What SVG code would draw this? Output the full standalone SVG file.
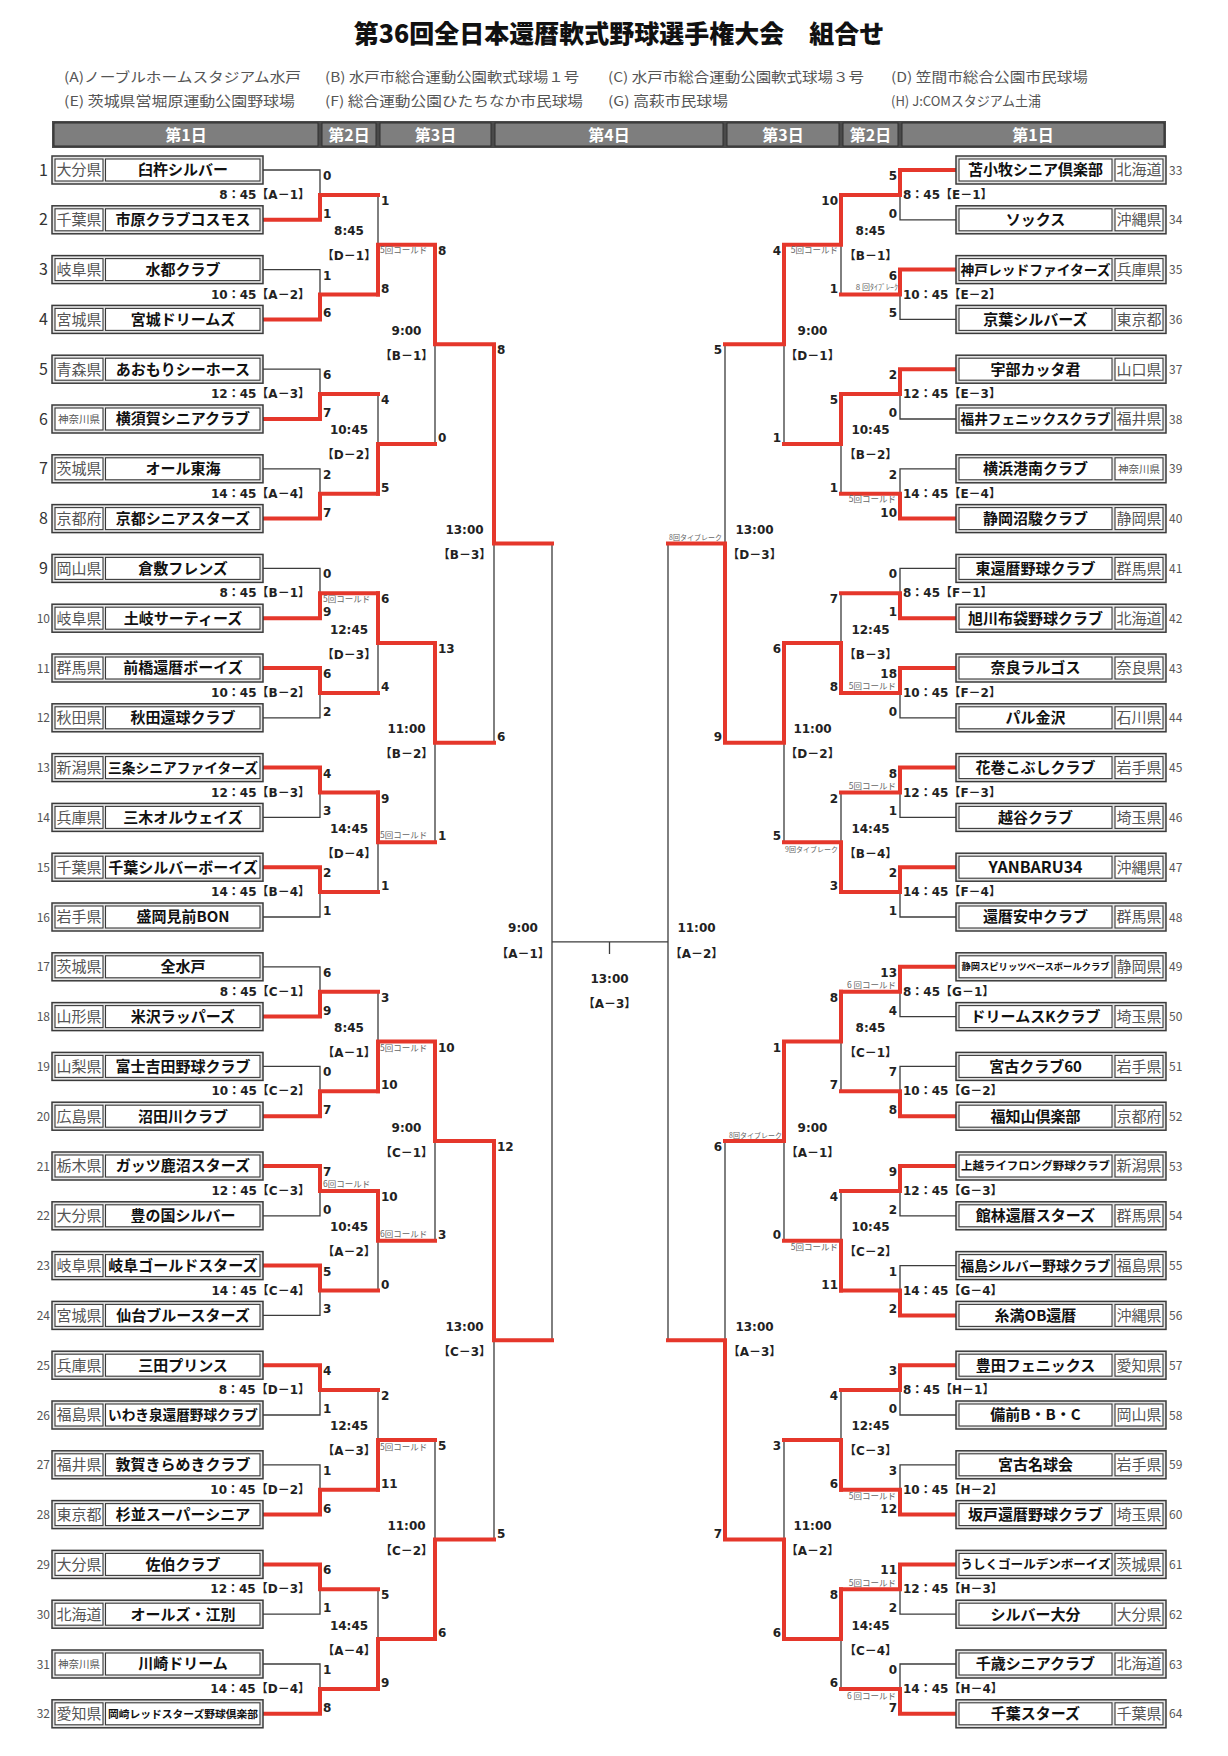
<svg xmlns="http://www.w3.org/2000/svg" xmlns:xlink="http://www.w3.org/1999/xlink" width="1228" height="1756" viewBox="0 0 1228 1756">
<style>
.ln{fill:none;stroke:#3c3c3c;stroke-width:1.3}
.rd{fill:none;stroke:#e5372b;stroke-width:4;stroke-linecap:square;stroke-linejoin:miter}
.bo{fill:#e4e4e4;stroke:#3a3a3a;stroke-width:1.5}
.bi{fill:#fff;stroke:#3a3a3a;stroke-width:1.1}
.nm{font-family:"Noto Sans CJK JP",sans-serif;font-weight:700;font-size:15px;text-anchor:middle;fill:#111}
.pf{font-family:"Noto Sans CJK JP",sans-serif;font-size:15px;text-anchor:middle;fill:#555}
.pfs{font-size:10.5px}
.no{font-family:"Noto Sans CJK JP",sans-serif;font-size:12px;fill:#555}
.nob{font-size:16px;fill:#333}
.sc{font-family:"DejaVu Sans","Noto Sans CJK JP",sans-serif;font-weight:700;font-size:12px;fill:#222}
.tm{font-family:"DejaVu Sans","Noto Sans CJK JP",sans-serif;font-weight:700;font-size:12px;fill:#222;text-anchor:middle}
.t1{font-family:"DejaVu Sans","Noto Sans CJK JP",sans-serif;font-weight:700;font-size:12px;fill:#222}
.nt{font-family:"Noto Sans CJK JP",sans-serif;font-size:8.5px;fill:#666}
.nt7{font-size:7px}
.e{text-anchor:end}
.ht{font-family:"Noto Sans CJK JP",sans-serif;font-weight:700;font-size:16px;fill:#fff;text-anchor:middle}
.hc{fill:#7e7e7e;stroke:#2e2e2e;stroke-width:1}
.vn{font-family:"Noto Sans CJK JP",sans-serif;font-size:13.5px;fill:#555}
</style>
<defs>
<g id="boxL"><rect class="bo" x="52" y="-14" width="211" height="28"/><rect class="bi" x="55" y="-11" width="48" height="22"/><rect class="bi" x="105.5" y="-11" width="154.5" height="22"/></g>
<g id="boxR"><rect class="bo" x="956" y="-14" width="210" height="28"/><rect class="bi" x="959" y="-11" width="153" height="22"/><rect class="bi" x="1115" y="-11" width="48" height="22"/></g>
</defs>
<rect width="1228" height="1756" fill="#fff"/>
<g id="title"><text x="619" y="43" font-family="Noto Sans CJK JP, sans-serif" font-weight="900" font-size="25" text-anchor="middle" fill="#111">第36回全日本還暦軟式野球選手権大会　組合せ</text></g>
<g id="venues">
<text class="vn" x="64" y="82" textLength="237" lengthAdjust="spacingAndGlyphs">(A)ノーブルホームスタジアム水戸</text>
<text class="vn" x="325" y="82" textLength="254" lengthAdjust="spacingAndGlyphs">(B) 水戸市総合運動公園軟式球場１号</text>
<text class="vn" x="608" y="82" textLength="256" lengthAdjust="spacingAndGlyphs">(C) 水戸市総合運動公園軟式球場３号</text>
<text class="vn" x="891" y="82" textLength="197" lengthAdjust="spacingAndGlyphs">(D) 笠間市総合公園市民球場</text>
<text class="vn" x="64" y="106" textLength="231" lengthAdjust="spacingAndGlyphs">(E) 茨城県営堀原運動公園野球場</text>
<text class="vn" x="325" y="106" textLength="258" lengthAdjust="spacingAndGlyphs">(F) 総合運動公園ひたちなか市民球場</text>
<text class="vn" x="608" y="106" textLength="120" lengthAdjust="spacingAndGlyphs">(G) 高萩市民球場</text>
<text class="vn" x="891" y="106" textLength="150" lengthAdjust="spacingAndGlyphs">(H) J:COMスタジアム土浦</text>
</g>
<g id="header">
<rect x="52" y="121" width="1114" height="27" fill="#4a4a4a"/>
<rect class="hc" x="54" y="123" width="264" height="23"/>
<rect class="hc" x="322" y="123" width="54" height="23"/>
<rect class="hc" x="380" y="123" width="111" height="23"/>
<rect class="hc" x="495" y="123" width="228" height="23"/>
<rect class="hc" x="727" y="123" width="112" height="23"/>
<rect class="hc" x="843" y="123" width="55" height="23"/>
<rect class="hc" x="902" y="123" width="262" height="23"/>
<text class="ht" x="186" y="140.5">第1日</text>
<text class="ht" x="349" y="140.5">第2日</text>
<text class="ht" x="435.5" y="140.5">第3日</text>
<text class="ht" x="609" y="140.5">第4日</text>
<text class="ht" x="783" y="140.5">第3日</text>
<text class="ht" x="870.5" y="140.5">第2日</text>
<text class="ht" x="1033" y="140.5">第1日</text>
</g>
<g id="connectors">
<path class="ln" d="M263 170H320V219.8H263M263 269.6H320V319.4H263M263 369.2H320V419H263M263 468.8H320V518.6H263M263 568.4H320V618.2H263M263 668H320V717.8H263M263 767.6H320V817.4H263M263 867.2H320V917H263M263 966.8H320V1016.6H263M263 1066.4H320V1116.2H263M263 1166H320V1215.8H263M263 1265.6H320V1315.4H263M263 1365.2H320V1415H263M263 1464.8H320V1514.6H263M263 1564.4H320V1614.2H263M263 1664H320V1713.8H263"/>
<path class="ln" d="M378 194.9V294.5M378 394.1V493.7M378 593.3V692.9M378 792.5V892.1M378 991.7V1091.3M378 1190.9V1290.5M378 1390.1V1489.7M378 1589.3V1688.9M435 244.7V443.9M435 643.1V842.3M435 1041.5V1240.7M435 1439.9V1639.1M494 344.3V742.7M494 1141.1V1539.5M552 543.5V1340.3"/>
<path class="ln" d="M956 170H900V219.8H956M956 269.6H900V319.4H956M956 369.2H900V419H956M956 468.8H900V518.6H956M956 568.4H900V618.2H956M956 668H900V717.8H956M956 767.6H900V817.4H956M956 867.2H900V917H956M956 966.8H900V1016.6H956M956 1066.4H900V1116.2H956M956 1166H900V1215.8H956M956 1265.6H900V1315.4H956M956 1365.2H900V1415H956M956 1464.8H900V1514.6H956M956 1564.4H900V1614.2H956M956 1664H900V1713.8H956"/>
<path class="ln" d="M841 194.9V294.5M841 394.1V493.7M841 593.3V692.9M841 792.5V892.1M841 991.7V1091.3M841 1190.9V1290.5M841 1390.1V1489.7M841 1589.3V1688.9M784 244.7V443.9M784 643.1V842.3M784 1041.5V1240.7M784 1439.9V1639.1M725 344.3V742.7M725 1141.1V1539.5M668 543.5V1340.3"/>
<path class="ln" d="M552 941.9H668M609.5 941.9V954"/>
<path class="rd" d="M263 219.8H320V194.9H378M263 319.4H320V294.5H378M263 419H320V394.1H378M263 518.6H320V493.7H378M263 618.2H320V593.3H378M263 668H320V692.9H378M263 767.6H320V792.5H378M263 867.2H320V892.1H378M263 1016.6H320V991.7H378M263 1116.2H320V1091.3H378M263 1166H320V1190.9H378M263 1265.6H320V1290.5H378M263 1365.2H320V1390.1H378M263 1514.6H320V1489.7H378M263 1564.4H320V1589.3H378M263 1713.8H320V1688.9H378"/>
<path class="rd" d="M378 294.5V244.7H435M378 493.7V443.9H435M378 593.3V643.1H435M378 792.5V842.3H435M378 1091.3V1041.5H435M378 1190.9V1240.7H435M378 1489.7V1439.9H435M378 1688.9V1639.1H435M435 244.7V344.3H494M435 643.1V742.7H494M435 1041.5V1141.1H494M435 1639.1V1539.5H494M494 344.3V543.5H552M494 1141.1V1340.3H552"/>
<path class="rd" d="M956 170H900V194.9H841M956 269.6H900V294.5H841M956 369.2H900V394.1H841M956 518.6H900V493.7H841M956 618.2H900V593.3H841M956 668H900V692.9H841M956 767.6H900V792.5H841M956 867.2H900V892.1H841M956 966.8H900V991.7H841M956 1116.2H900V1091.3H841M956 1166H900V1190.9H841M956 1315.4H900V1290.5H841M956 1365.2H900V1390.1H841M956 1514.6H900V1489.7H841M956 1564.4H900V1589.3H841M956 1713.8H900V1688.9H841"/>
<path class="rd" d="M841 194.9V244.7H784M841 394.1V443.9H784M841 692.9V643.1H784M841 892.1V842.3H784M841 991.7V1041.5H784M841 1290.5V1240.7H784M841 1489.7V1439.9H784M841 1589.3V1639.1H784M784 244.7V344.3H725M784 643.1V742.7H725M784 1041.5V1141.1H725M784 1639.1V1539.5H725M725 742.7V543.5H668M725 1539.5V1340.3H668"/>
</g>
<g id="scores">
<text class="sc" x="323" y="180">0</text><text class="sc" x="323" y="217.8">1</text><text class="sc" x="323" y="279.6">1</text><text class="sc" x="323" y="317.4">6</text><text class="sc" x="323" y="379.2">6</text><text class="sc" x="323" y="417">7</text><text class="sc" x="323" y="478.8">2</text><text class="sc" x="323" y="516.6">7</text><text class="sc" x="323" y="578.4">0</text><text class="sc" x="323" y="616.2">9</text><text class="sc" x="323" y="678">6</text><text class="sc" x="323" y="715.8">2</text><text class="sc" x="323" y="777.6">4</text><text class="sc" x="323" y="815.4">3</text><text class="sc" x="323" y="877.2">2</text><text class="sc" x="323" y="915">1</text>
<text class="sc" x="323" y="976.8">6</text><text class="sc" x="323" y="1014.6">9</text><text class="sc" x="323" y="1076.4">0</text><text class="sc" x="323" y="1114.2">7</text><text class="sc" x="323" y="1176">7</text><text class="sc" x="323" y="1213.8">0</text><text class="sc" x="323" y="1275.6">5</text><text class="sc" x="323" y="1313.4">3</text><text class="sc" x="323" y="1375.2">4</text><text class="sc" x="323" y="1413">1</text><text class="sc" x="323" y="1474.8">1</text><text class="sc" x="323" y="1512.6">6</text><text class="sc" x="323" y="1574.4">6</text><text class="sc" x="323" y="1612.2">1</text><text class="sc" x="323" y="1674">1</text><text class="sc" x="323" y="1711.8">8</text>
<text class="sc" x="381" y="204.9">1</text><text class="sc" x="381" y="292.5">8</text><text class="sc" x="381" y="404.1">4</text><text class="sc" x="381" y="491.7">5</text><text class="sc" x="381" y="603.3">6</text><text class="sc" x="381" y="690.9">4</text><text class="sc" x="381" y="802.5">9</text><text class="sc" x="381" y="890.1">1</text><text class="sc" x="381" y="1001.7">3</text><text class="sc" x="381" y="1089.3">10</text><text class="sc" x="381" y="1200.9">10</text><text class="sc" x="381" y="1288.5">0</text><text class="sc" x="381" y="1400.1">2</text><text class="sc" x="381" y="1487.7">11</text><text class="sc" x="381" y="1599.3">5</text><text class="sc" x="381" y="1686.9">9</text>
<text class="sc" x="438" y="254.7">8</text><text class="sc" x="438" y="441.9">0</text><text class="sc" x="438" y="653.1">13</text><text class="sc" x="438" y="840.3">1</text><text class="sc" x="438" y="1051.5">10</text><text class="sc" x="438" y="1238.7">3</text><text class="sc" x="438" y="1449.9">5</text><text class="sc" x="438" y="1637.1">6</text>
<text class="sc" x="497" y="354.3">8</text><text class="sc" x="497" y="740.7">6</text><text class="sc" x="497" y="1151.1">12</text><text class="sc" x="497" y="1537.5">5</text>
<text class="sc e" x="897" y="180">5</text><text class="sc e" x="897" y="217.8">0</text><text class="sc e" x="897" y="279.6">6</text><text class="sc e" x="897" y="317.4">5</text><text class="sc e" x="897" y="379.2">2</text><text class="sc e" x="897" y="417">0</text><text class="sc e" x="897" y="478.8">2</text><text class="sc e" x="897" y="516.6">10</text><text class="sc e" x="897" y="578.4">0</text><text class="sc e" x="897" y="616.2">1</text><text class="sc e" x="897" y="678">18</text><text class="sc e" x="897" y="715.8">0</text><text class="sc e" x="897" y="777.6">8</text><text class="sc e" x="897" y="815.4">1</text><text class="sc e" x="897" y="877.2">2</text><text class="sc e" x="897" y="915">1</text>
<text class="sc e" x="897" y="976.8">13</text><text class="sc e" x="897" y="1014.6">4</text><text class="sc e" x="897" y="1076.4">7</text><text class="sc e" x="897" y="1114.2">8</text><text class="sc e" x="897" y="1176">9</text><text class="sc e" x="897" y="1213.8">2</text><text class="sc e" x="897" y="1275.6">1</text><text class="sc e" x="897" y="1313.4">2</text><text class="sc e" x="897" y="1375.2">3</text><text class="sc e" x="897" y="1413">0</text><text class="sc e" x="897" y="1474.8">3</text><text class="sc e" x="897" y="1512.6">12</text><text class="sc e" x="897" y="1574.4">11</text><text class="sc e" x="897" y="1612.2">2</text><text class="sc e" x="897" y="1674">0</text><text class="sc e" x="897" y="1711.8">7</text>
<text class="sc e" x="838" y="204.9">10</text><text class="sc e" x="838" y="292.5">1</text><text class="sc e" x="838" y="404.1">5</text><text class="sc e" x="838" y="491.7">1</text><text class="sc e" x="838" y="603.3">7</text><text class="sc e" x="838" y="690.9">8</text><text class="sc e" x="838" y="802.5">2</text><text class="sc e" x="838" y="890.1">3</text><text class="sc e" x="838" y="1001.7">8</text><text class="sc e" x="838" y="1089.3">7</text><text class="sc e" x="838" y="1200.9">4</text><text class="sc e" x="838" y="1288.5">11</text><text class="sc e" x="838" y="1400.1">4</text><text class="sc e" x="838" y="1487.7">6</text><text class="sc e" x="838" y="1599.3">8</text><text class="sc e" x="838" y="1686.9">6</text>
<text class="sc e" x="781" y="254.7">4</text><text class="sc e" x="781" y="441.9">1</text><text class="sc e" x="781" y="653.1">6</text><text class="sc e" x="781" y="840.3">5</text><text class="sc e" x="781" y="1051.5">1</text><text class="sc e" x="781" y="1238.7">0</text><text class="sc e" x="781" y="1449.9">3</text><text class="sc e" x="781" y="1637.1">6</text>
<text class="sc e" x="722" y="354.3">5</text><text class="sc e" x="722" y="740.7">9</text><text class="sc e" x="722" y="1151.1">6</text><text class="sc e" x="722" y="1537.5">7</text>
</g>
<g id="labels">
<text class="t1 e" x="310" y="198.9">8：45【A－1】</text><text class="t1 e" x="310" y="298.5">10：45【A－2】</text><text class="t1 e" x="310" y="398.1">12：45【A－3】</text><text class="t1 e" x="310" y="497.7">14：45【A－4】</text>
<text class="t1 e" x="310" y="597.3">8：45【B－1】</text><text class="t1 e" x="310" y="696.9">10：45【B－2】</text><text class="t1 e" x="310" y="796.5">12：45【B－3】</text><text class="t1 e" x="310" y="896.1">14：45【B－4】</text>
<text class="t1 e" x="310" y="995.7">8：45【C－1】</text><text class="t1 e" x="310" y="1095.3">10：45【C－2】</text><text class="t1 e" x="310" y="1194.9">12：45【C－3】</text><text class="t1 e" x="310" y="1294.5">14：45【C－4】</text>
<text class="t1 e" x="310" y="1394.1">8：45【D－1】</text><text class="t1 e" x="310" y="1493.7">10：45【D－2】</text><text class="t1 e" x="310" y="1593.3">12：45【D－3】</text><text class="t1 e" x="310" y="1692.9">14：45【D－4】</text>
<text class="t1" x="903" y="198.9">8：45【E－1】</text><text class="t1" x="903" y="298.5">10：45【E－2】</text><text class="t1" x="903" y="398.1">12：45【E－3】</text><text class="t1" x="903" y="497.7">14：45【E－4】</text>
<text class="t1" x="903" y="597.3">8：45【F－1】</text><text class="t1" x="903" y="696.9">10：45【F－2】</text><text class="t1" x="903" y="796.5">12：45【F－3】</text><text class="t1" x="903" y="896.1">14：45【F－4】</text>
<text class="t1" x="903" y="995.7">8：45【G－1】</text><text class="t1" x="903" y="1095.3">10：45【G－2】</text><text class="t1" x="903" y="1194.9">12：45【G－3】</text><text class="t1" x="903" y="1294.5">14：45【G－4】</text>
<text class="t1" x="903" y="1394.1">8：45【H－1】</text><text class="t1" x="903" y="1493.7">10：45【H－2】</text><text class="t1" x="903" y="1593.3">12：45【H－3】</text><text class="t1" x="903" y="1692.9">14：45【H－4】</text>
<text class="tm" x="349" y="235.2">8:45</text><text class="tm" x="349" y="260.2">【D－1】</text>
<text class="tm" x="349" y="434.4">10:45</text><text class="tm" x="349" y="459.4">【D－2】</text>
<text class="tm" x="349" y="633.6">12:45</text><text class="tm" x="349" y="658.6">【D－3】</text>
<text class="tm" x="349" y="832.8">14:45</text><text class="tm" x="349" y="857.8">【D－4】</text>
<text class="tm" x="349" y="1032">8:45</text><text class="tm" x="349" y="1057">【A－1】</text>
<text class="tm" x="349" y="1231.2">10:45</text><text class="tm" x="349" y="1256.2">【A－2】</text>
<text class="tm" x="349" y="1430.4">12:45</text><text class="tm" x="349" y="1455.4">【A－3】</text>
<text class="tm" x="349" y="1629.6">14:45</text><text class="tm" x="349" y="1654.6">【A－4】</text>
<text class="tm" x="406.5" y="334.8">9:00</text><text class="tm" x="406.5" y="359.8">【B－1】</text>
<text class="tm" x="406.5" y="733.2">11:00</text><text class="tm" x="406.5" y="758.2">【B－2】</text>
<text class="tm" x="406.5" y="1131.6">9:00</text><text class="tm" x="406.5" y="1156.6">【C－1】</text>
<text class="tm" x="406.5" y="1530">11:00</text><text class="tm" x="406.5" y="1555">【C－2】</text>
<text class="tm" x="464.5" y="534">13:00</text><text class="tm" x="464.5" y="559">【B－3】</text>
<text class="tm" x="464.5" y="1330.8">13:00</text><text class="tm" x="464.5" y="1355.8">【C－3】</text>
<text class="tm" x="523" y="932">9:00</text><text class="tm" x="523" y="958">【A－1】</text>
<text class="tm" x="609.5" y="983">13:00</text><text class="tm" x="609.5" y="1008">【A－3】</text>
<text class="tm" x="696.5" y="932">11:00</text><text class="tm" x="696.5" y="958">【A－2】</text>
<text class="tm" x="754.5" y="534">13:00</text><text class="tm" x="754.5" y="559">【D－3】</text>
<text class="tm" x="754.5" y="1330.8">13:00</text><text class="tm" x="754.5" y="1355.8">【A－3】</text>
<text class="tm" x="812.5" y="334.8">9:00</text><text class="tm" x="812.5" y="359.8">【D－1】</text>
<text class="tm" x="812.5" y="733.2">11:00</text><text class="tm" x="812.5" y="758.2">【D－2】</text>
<text class="tm" x="812.5" y="1131.6">9:00</text><text class="tm" x="812.5" y="1156.6">【A－1】</text>
<text class="tm" x="812.5" y="1530">11:00</text><text class="tm" x="812.5" y="1555">【A－2】</text>
<text class="tm" x="870.5" y="235.2">8:45</text><text class="tm" x="870.5" y="260.2">【B－1】</text>
<text class="tm" x="870.5" y="434.4">10:45</text><text class="tm" x="870.5" y="459.4">【B－2】</text>
<text class="tm" x="870.5" y="633.6">12:45</text><text class="tm" x="870.5" y="658.6">【B－3】</text>
<text class="tm" x="870.5" y="832.8">14:45</text><text class="tm" x="870.5" y="857.8">【B－4】</text>
<text class="tm" x="870.5" y="1032">8:45</text><text class="tm" x="870.5" y="1057">【C－1】</text>
<text class="tm" x="870.5" y="1231.2">10:45</text><text class="tm" x="870.5" y="1256.2">【C－2】</text>
<text class="tm" x="870.5" y="1430.4">12:45</text><text class="tm" x="870.5" y="1455.4">【C－3】</text>
<text class="tm" x="870.5" y="1629.6">14:45</text><text class="tm" x="870.5" y="1654.6">【C－4】</text>
</g>
<g id="notes">
<text class="nt" x="380" y="253">5回コールド</text>
<text class="nt" x="323" y="602">5回コールド</text>
<text class="nt" x="380" y="838">5回コールド</text>
<text class="nt" x="323" y="1187">6回コールド</text>
<text class="nt" x="380" y="1051">5回コールド</text>
<text class="nt" x="380" y="1237">6回コールド</text>
<text class="nt" x="380" y="1450">5回コールド</text>
<text class="nt e" x="898" y="290" style="font-size:8px">8 回ﾀｲﾌﾞﾚｰｸ</text>
<text class="nt e" x="896" y="502">5回コールド</text>
<text class="nt e" x="838" y="253">5回コールド</text>
<text class="nt e" x="896" y="689">5回コールド</text>
<text class="nt e" x="896" y="789">5回コールド</text>
<text class="nt nt7 e" x="838" y="852">9回タイブレーク</text>
<text class="nt nt7 e" x="722" y="540">8回タイブレーク</text>
<text class="nt e" x="896" y="988">6 回コールド</text>
<text class="nt nt7 e" x="782" y="1138">8回タイブレーク</text>
<text class="nt e" x="838" y="1250">5回コールド</text>
<text class="nt e" x="896" y="1499">5回コールド</text>
<text class="nt e" x="896" y="1586">5回コールド</text>
<text class="nt e" x="896" y="1699">6 回コールド</text>
</g>
<g id="team-1" transform="translate(0,170)"><use href="#boxL"/><text class="no nob e" x="48" y="5.5">1</text><text class="pf" x="79" y="5.4">大分県</text><text class="nm" x="183" y="5.4">臼杵シルバー</text></g>
<g id="team-2" transform="translate(0,219.8)"><use href="#boxL"/><text class="no nob e" x="48" y="5.5">2</text><text class="pf" x="79" y="5.4">千葉県</text><text class="nm" x="183" y="5.4">市原クラブコスモス</text></g>
<g id="team-3" transform="translate(0,269.6)"><use href="#boxL"/><text class="no nob e" x="48" y="5.5">3</text><text class="pf" x="79" y="5.4">岐阜県</text><text class="nm" x="183" y="5.4">水都クラブ</text></g>
<g id="team-4" transform="translate(0,319.4)"><use href="#boxL"/><text class="no nob e" x="48" y="5.5">4</text><text class="pf" x="79" y="5.4">宮城県</text><text class="nm" x="183" y="5.4">宮城ドリームズ</text></g>
<g id="team-5" transform="translate(0,369.2)"><use href="#boxL"/><text class="no nob e" x="48" y="5.5">5</text><text class="pf" x="79" y="5.4">青森県</text><text class="nm" x="183" y="5.4">あおもりシーホース</text></g>
<g id="team-6" transform="translate(0,419)"><use href="#boxL"/><text class="no nob e" x="48" y="5.5">6</text><text class="pf pfs" x="79" y="3.8">神奈川県</text><text class="nm" x="183" y="5.4">横須賀シニアクラブ</text></g>
<g id="team-7" transform="translate(0,468.8)"><use href="#boxL"/><text class="no nob e" x="48" y="5.5">7</text><text class="pf" x="79" y="5.4">茨城県</text><text class="nm" x="183" y="5.4">オール東海</text></g>
<g id="team-8" transform="translate(0,518.6)"><use href="#boxL"/><text class="no nob e" x="48" y="5.5">8</text><text class="pf" x="79" y="5.4">京都府</text><text class="nm" x="183" y="5.4">京都シニアスターズ</text></g>
<g id="team-9" transform="translate(0,568.4)"><use href="#boxL"/><text class="no nob e" x="48" y="5.5">9</text><text class="pf" x="79" y="5.4">岡山県</text><text class="nm" x="183" y="5.4">倉敷フレンズ</text></g>
<g id="team-10" transform="translate(0,618.2)"><use href="#boxL"/><text class="no e" x="50" y="4.5">10</text><text class="pf" x="79" y="5.4">岐阜県</text><text class="nm" x="183" y="5.4">土岐サーティーズ</text></g>
<g id="team-11" transform="translate(0,668)"><use href="#boxL"/><text class="no e" x="50" y="4.5">11</text><text class="pf" x="79" y="5.4">群馬県</text><text class="nm" x="183" y="5.4">前橋還暦ボーイズ</text></g>
<g id="team-12" transform="translate(0,717.8)"><use href="#boxL"/><text class="no e" x="50" y="4.5">12</text><text class="pf" x="79" y="5.4">秋田県</text><text class="nm" x="183" y="5.4">秋田還球クラブ</text></g>
<g id="team-13" transform="translate(0,767.6)"><use href="#boxL"/><text class="no e" x="50" y="4.5">13</text><text class="pf" x="79" y="5.4">新潟県</text><text class="nm" x="183" y="4.9" style="font-size:13.6px" textLength="150" lengthAdjust="spacingAndGlyphs">三条シニアファイターズ</text></g>
<g id="team-14" transform="translate(0,817.4)"><use href="#boxL"/><text class="no e" x="50" y="4.5">14</text><text class="pf" x="79" y="5.4">兵庫県</text><text class="nm" x="183" y="5.4">三木オルウェイズ</text></g>
<g id="team-15" transform="translate(0,867.2)"><use href="#boxL"/><text class="no e" x="50" y="4.5">15</text><text class="pf" x="79" y="5.4">千葉県</text><text class="nm" x="183" y="5.4">千葉シルバーボーイズ</text></g>
<g id="team-16" transform="translate(0,917)"><use href="#boxL"/><text class="no e" x="50" y="4.5">16</text><text class="pf" x="79" y="5.4">岩手県</text><text class="nm" x="183" y="5.4">盛岡見前BON</text></g>
<g id="team-17" transform="translate(0,966.8)"><use href="#boxL"/><text class="no e" x="50" y="4.5">17</text><text class="pf" x="79" y="5.4">茨城県</text><text class="nm" x="183" y="5.4">全水戸</text></g>
<g id="team-18" transform="translate(0,1016.6)"><use href="#boxL"/><text class="no e" x="50" y="4.5">18</text><text class="pf" x="79" y="5.4">山形県</text><text class="nm" x="183" y="5.4">米沢ラッパーズ</text></g>
<g id="team-19" transform="translate(0,1066.4)"><use href="#boxL"/><text class="no e" x="50" y="4.5">19</text><text class="pf" x="79" y="5.4">山梨県</text><text class="nm" x="183" y="5.4">富士吉田野球クラブ</text></g>
<g id="team-20" transform="translate(0,1116.2)"><use href="#boxL"/><text class="no e" x="50" y="4.5">20</text><text class="pf" x="79" y="5.4">広島県</text><text class="nm" x="183" y="5.4">沼田川クラブ</text></g>
<g id="team-21" transform="translate(0,1166)"><use href="#boxL"/><text class="no e" x="50" y="4.5">21</text><text class="pf" x="79" y="5.4">栃木県</text><text class="nm" x="183" y="5.4">ガッツ鹿沼スターズ</text></g>
<g id="team-22" transform="translate(0,1215.8)"><use href="#boxL"/><text class="no e" x="50" y="4.5">22</text><text class="pf" x="79" y="5.4">大分県</text><text class="nm" x="183" y="5.4">豊の国シルバー</text></g>
<g id="team-23" transform="translate(0,1265.6)"><use href="#boxL"/><text class="no e" x="50" y="4.5">23</text><text class="pf" x="79" y="5.4">岐阜県</text><text class="nm" x="183" y="5.4">岐阜ゴールドスターズ</text></g>
<g id="team-24" transform="translate(0,1315.4)"><use href="#boxL"/><text class="no e" x="50" y="4.5">24</text><text class="pf" x="79" y="5.4">宮城県</text><text class="nm" x="183" y="5.4">仙台ブルースターズ</text></g>
<g id="team-25" transform="translate(0,1365.2)"><use href="#boxL"/><text class="no e" x="50" y="4.5">25</text><text class="pf" x="79" y="5.4">兵庫県</text><text class="nm" x="183" y="5.4">三田プリンス</text></g>
<g id="team-26" transform="translate(0,1415)"><use href="#boxL"/><text class="no e" x="50" y="4.5">26</text><text class="pf" x="79" y="5.4">福島県</text><text class="nm" x="183" y="4.9" style="font-size:13.6px" textLength="150" lengthAdjust="spacingAndGlyphs">いわき泉還暦野球クラブ</text></g>
<g id="team-27" transform="translate(0,1464.8)"><use href="#boxL"/><text class="no e" x="50" y="4.5">27</text><text class="pf" x="79" y="5.4">福井県</text><text class="nm" x="183" y="5.4">敦賀きらめきクラブ</text></g>
<g id="team-28" transform="translate(0,1514.6)"><use href="#boxL"/><text class="no e" x="50" y="4.5">28</text><text class="pf" x="79" y="5.4">東京都</text><text class="nm" x="183" y="5.4">杉並スーパーシニア</text></g>
<g id="team-29" transform="translate(0,1564.4)"><use href="#boxL"/><text class="no e" x="50" y="4.5">29</text><text class="pf" x="79" y="5.4">大分県</text><text class="nm" x="183" y="5.4">佐伯クラブ</text></g>
<g id="team-30" transform="translate(0,1614.2)"><use href="#boxL"/><text class="no e" x="50" y="4.5">30</text><text class="pf" x="79" y="5.4">北海道</text><text class="nm" x="183" y="5.4">オールズ・江別</text></g>
<g id="team-31" transform="translate(0,1664)"><use href="#boxL"/><text class="no e" x="50" y="4.5">31</text><text class="pf pfs" x="79" y="3.8">神奈川県</text><text class="nm" x="183" y="5.4">川崎ドリーム</text></g>
<g id="team-32" transform="translate(0,1713.8)"><use href="#boxL"/><text class="no e" x="50" y="4.5">32</text><text class="pf" x="79" y="5.4">愛知県</text><text class="nm" x="183" y="3.9" style="font-size:10.7px" textLength="150" lengthAdjust="spacingAndGlyphs">岡崎レッドスターズ野球倶楽部</text></g>
<g id="team-33" transform="translate(0,170)"><use href="#boxR"/><text class="nm" x="1035.5" y="5.4">苫小牧シニア倶楽部</text><text class="pf" x="1139" y="5.4">北海道</text><text class="no" x="1169" y="4.5">33</text></g>
<g id="team-34" transform="translate(0,219.8)"><use href="#boxR"/><text class="nm" x="1035.5" y="5.4">ソックス</text><text class="pf" x="1139" y="5.4">沖縄県</text><text class="no" x="1169" y="4.5">34</text></g>
<g id="team-35" transform="translate(0,269.6)"><use href="#boxR"/><text class="nm" x="1035.5" y="4.9" style="font-size:13.6px" textLength="150" lengthAdjust="spacingAndGlyphs">神戸レッドファイターズ</text><text class="pf" x="1139" y="5.4">兵庫県</text><text class="no" x="1169" y="4.5">35</text></g>
<g id="team-36" transform="translate(0,319.4)"><use href="#boxR"/><text class="nm" x="1035.5" y="5.4">京葉シルバーズ</text><text class="pf" x="1139" y="5.4">東京都</text><text class="no" x="1169" y="4.5">36</text></g>
<g id="team-37" transform="translate(0,369.2)"><use href="#boxR"/><text class="nm" x="1035.5" y="5.4">宇部カッタ君</text><text class="pf" x="1139" y="5.4">山口県</text><text class="no" x="1169" y="4.5">37</text></g>
<g id="team-38" transform="translate(0,419)"><use href="#boxR"/><text class="nm" x="1035.5" y="4.9" style="font-size:13.6px" textLength="150" lengthAdjust="spacingAndGlyphs">福井フェニックスクラブ</text><text class="pf" x="1139" y="5.4">福井県</text><text class="no" x="1169" y="4.5">38</text></g>
<g id="team-39" transform="translate(0,468.8)"><use href="#boxR"/><text class="nm" x="1035.5" y="5.4">横浜港南クラブ</text><text class="pf pfs" x="1139" y="3.8">神奈川県</text><text class="no" x="1169" y="4.5">39</text></g>
<g id="team-40" transform="translate(0,518.6)"><use href="#boxR"/><text class="nm" x="1035.5" y="5.4">静岡沼駿クラブ</text><text class="pf" x="1139" y="5.4">静岡県</text><text class="no" x="1169" y="4.5">40</text></g>
<g id="team-41" transform="translate(0,568.4)"><use href="#boxR"/><text class="nm" x="1035.5" y="5.4">東還暦野球クラブ</text><text class="pf" x="1139" y="5.4">群馬県</text><text class="no" x="1169" y="4.5">41</text></g>
<g id="team-42" transform="translate(0,618.2)"><use href="#boxR"/><text class="nm" x="1035.5" y="5.4">旭川布袋野球クラブ</text><text class="pf" x="1139" y="5.4">北海道</text><text class="no" x="1169" y="4.5">42</text></g>
<g id="team-43" transform="translate(0,668)"><use href="#boxR"/><text class="nm" x="1035.5" y="5.4">奈良ラルゴス</text><text class="pf" x="1139" y="5.4">奈良県</text><text class="no" x="1169" y="4.5">43</text></g>
<g id="team-44" transform="translate(0,717.8)"><use href="#boxR"/><text class="nm" x="1035.5" y="5.4">パル金沢</text><text class="pf" x="1139" y="5.4">石川県</text><text class="no" x="1169" y="4.5">44</text></g>
<g id="team-45" transform="translate(0,767.6)"><use href="#boxR"/><text class="nm" x="1035.5" y="5.4">花巻こぶしクラブ</text><text class="pf" x="1139" y="5.4">岩手県</text><text class="no" x="1169" y="4.5">45</text></g>
<g id="team-46" transform="translate(0,817.4)"><use href="#boxR"/><text class="nm" x="1035.5" y="5.4">越谷クラブ</text><text class="pf" x="1139" y="5.4">埼玉県</text><text class="no" x="1169" y="4.5">46</text></g>
<g id="team-47" transform="translate(0,867.2)"><use href="#boxR"/><text class="nm" x="1035.5" y="5.6" style="font-size:16px">YANBARU34</text><text class="pf" x="1139" y="5.4">沖縄県</text><text class="no" x="1169" y="4.5">47</text></g>
<g id="team-48" transform="translate(0,917)"><use href="#boxR"/><text class="nm" x="1035.5" y="5.4">還暦安中クラブ</text><text class="pf" x="1139" y="5.4">群馬県</text><text class="no" x="1169" y="4.5">48</text></g>
<g id="team-49" transform="translate(0,966.8)"><use href="#boxR"/><text class="nm" x="1035.5" y="3.5" style="font-size:9.3px" textLength="148" lengthAdjust="spacingAndGlyphs">静岡スピリッツベースボールクラブ</text><text class="pf" x="1139" y="5.4">静岡県</text><text class="no" x="1169" y="4.5">49</text></g>
<g id="team-50" transform="translate(0,1016.6)"><use href="#boxR"/><text class="nm" x="1035.5" y="5.4">ドリームスKクラブ</text><text class="pf" x="1139" y="5.4">埼玉県</text><text class="no" x="1169" y="4.5">50</text></g>
<g id="team-51" transform="translate(0,1066.4)"><use href="#boxR"/><text class="nm" x="1035.5" y="5.4">宮古クラブ60</text><text class="pf" x="1139" y="5.4">岩手県</text><text class="no" x="1169" y="4.5">51</text></g>
<g id="team-52" transform="translate(0,1116.2)"><use href="#boxR"/><text class="nm" x="1035.5" y="5.4">福知山倶楽部</text><text class="pf" x="1139" y="5.4">京都府</text><text class="no" x="1169" y="4.5">52</text></g>
<g id="team-53" transform="translate(0,1166)"><use href="#boxR"/><text class="nm" x="1035.5" y="4.2" style="font-size:11.5px" textLength="149" lengthAdjust="spacingAndGlyphs">上越ライフロング野球クラブ</text><text class="pf" x="1139" y="5.4">新潟県</text><text class="no" x="1169" y="4.5">53</text></g>
<g id="team-54" transform="translate(0,1215.8)"><use href="#boxR"/><text class="nm" x="1035.5" y="5.4">館林還暦スターズ</text><text class="pf" x="1139" y="5.4">群馬県</text><text class="no" x="1169" y="4.5">54</text></g>
<g id="team-55" transform="translate(0,1265.6)"><use href="#boxR"/><text class="nm" x="1035.5" y="4.9" style="font-size:13.6px" textLength="150" lengthAdjust="spacingAndGlyphs">福島シルバー野球クラブ</text><text class="pf" x="1139" y="5.4">福島県</text><text class="no" x="1169" y="4.5">55</text></g>
<g id="team-56" transform="translate(0,1315.4)"><use href="#boxR"/><text class="nm" x="1035.5" y="5.4">糸満OB還暦</text><text class="pf" x="1139" y="5.4">沖縄県</text><text class="no" x="1169" y="4.5">56</text></g>
<g id="team-57" transform="translate(0,1365.2)"><use href="#boxR"/><text class="nm" x="1035.5" y="5.4">豊田フェニックス</text><text class="pf" x="1139" y="5.4">愛知県</text><text class="no" x="1169" y="4.5">57</text></g>
<g id="team-58" transform="translate(0,1415)"><use href="#boxR"/><text class="nm" x="1035.5" y="5.4">備前B・B・C</text><text class="pf" x="1139" y="5.4">岡山県</text><text class="no" x="1169" y="4.5">58</text></g>
<g id="team-59" transform="translate(0,1464.8)"><use href="#boxR"/><text class="nm" x="1035.5" y="5.4">宮古名球会</text><text class="pf" x="1139" y="5.4">岩手県</text><text class="no" x="1169" y="4.5">59</text></g>
<g id="team-60" transform="translate(0,1514.6)"><use href="#boxR"/><text class="nm" x="1035.5" y="5.4">坂戸還暦野球クラブ</text><text class="pf" x="1139" y="5.4">埼玉県</text><text class="no" x="1169" y="4.5">60</text></g>
<g id="team-61" transform="translate(0,1564.4)"><use href="#boxR"/><text class="nm" x="1035.5" y="4.5" style="font-size:12.5px" textLength="150" lengthAdjust="spacingAndGlyphs">うしくゴールデンボーイズ</text><text class="pf" x="1139" y="5.4">茨城県</text><text class="no" x="1169" y="4.5">61</text></g>
<g id="team-62" transform="translate(0,1614.2)"><use href="#boxR"/><text class="nm" x="1035.5" y="5.4">シルバー大分</text><text class="pf" x="1139" y="5.4">大分県</text><text class="no" x="1169" y="4.5">62</text></g>
<g id="team-63" transform="translate(0,1664)"><use href="#boxR"/><text class="nm" x="1035.5" y="5.4">千歳シニアクラブ</text><text class="pf" x="1139" y="5.4">北海道</text><text class="no" x="1169" y="4.5">63</text></g>
<g id="team-64" transform="translate(0,1713.8)"><use href="#boxR"/><text class="nm" x="1035.5" y="5.4">千葉スターズ</text><text class="pf" x="1139" y="5.4">千葉県</text><text class="no" x="1169" y="4.5">64</text></g>
</svg>
